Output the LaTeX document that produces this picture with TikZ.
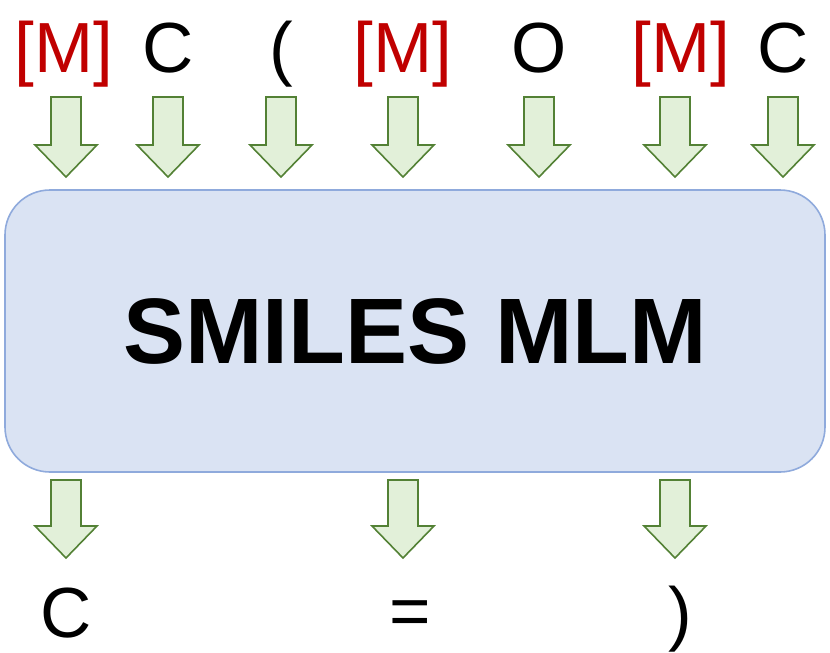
\documentclass[tikz,border=0pt]{standalone}
\usepackage{fontspec}
\setmainfont{Liberation Sans}
\definecolor{boxfill}{HTML}{DAE3F3}
\definecolor{boxline}{HTML}{8FAADC}
\definecolor{arrfill}{HTML}{E2F0D9}
\definecolor{arrline}{HTML}{538135}
\definecolor{mred}{HTML}{C00000}
\tikzset{
  blockarr/.style={fill=arrfill,draw=arrline,line width=1.6pt,line join=miter},
  tok/.style={font=\fontsize{71}{74}\selectfont,inner sep=0pt,anchor=base},
}
\newcommand{\blkarr}[4]{% name, x, ytop, ybot
  \path[blockarr] (#2-15,#3) -- (#2+15,#3) -- (#2+15,#4-32) -- (#2+31,#4-32) -- (#2,#4) -- (#2-31,#4-32) -- (#2-15,#4-32) -- cycle;
  \coordinate (#1) at (#2,#4);}
\begin{document}
\begin{tikzpicture}[x=1pt,y=-1pt]
\useasboundingbox (0,0) rectangle (830,653);
\node[draw=boxline,fill=boxfill,line width=1.6pt,rounded corners=45pt,minimum width=820pt,minimum height=282pt,font=\fontsize{93}{96}\selectfont\bfseries] (mlm) at (415,331) {SMILES MLM};
\foreach \n/\x in {a/66,b/168,c/281,d/403,e/539,f/675,g/783}{\blkarr{t\n}{\x}{97}{177}}
\foreach \n/\x in {a/66,d/403,f/675}{\blkarr{o\n}{\x}{480}{558}}
\node[tok,text=mred] (la) at (64,72) {[M]};
\node[tok] (lb) at (168,72) {C};
\node[tok] (lc) at (281,72) {(};
\node[tok,text=mred] (ld) at (403,72) {[M]};
\node[tok] (le) at (539,72) {O};
\node[tok,text=mred] (lf) at (681,72) {[M]};
\node[tok] (lg) at (783,72) {C};
\node[tok] (ba) at (66,637) {C};
\node[tok] (bd) at (410,635) {=};
\node[tok] (bf) at (680,637) {)};
\end{tikzpicture}
\end{document}
